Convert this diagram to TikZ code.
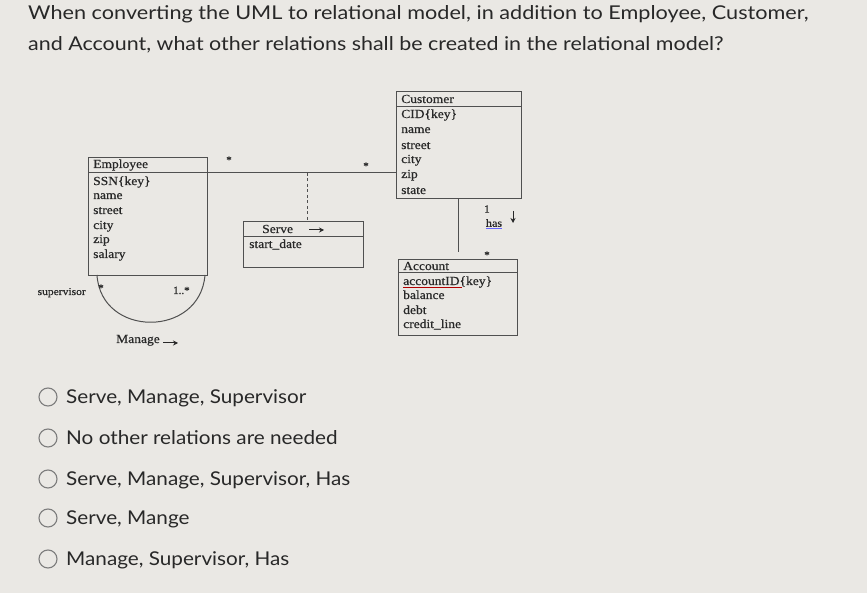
\documentclass[tikz,border=0pt]{standalone}
\usepackage{fontspec}
\setmainfont{Liberation Serif}
\newfontfamily\dfont[FakeBold=0.5]{Liberation Serif}
\newfontfamily\lato{Lato}
\usetikzlibrary{arrows.meta,calc}
\definecolor{bg}{RGB}{234,232,228}
\definecolor{ink}{RGB}{40,40,40}
\definecolor{dline}{RGB}{80,80,80}
\definecolor{dtext}{RGB}{40,40,40}
\definecolor{radio}{RGB}{125,125,125}
\tikzset{
  umlbox/.style={draw=dline, line width=1pt, rectangle, anchor=north west, inner sep=0pt},
  attr/.style={anchor=base west, inner sep=0pt, text=dtext, xscale=1.1, font=\dfont\fontsize{12.3}{12.3}\selectfont},
  conn/.style={draw=dline, line width=1pt},
  qtext/.style={anchor=base west, inner sep=0pt, text=ink, xscale=1.14, font=\lato\fontsize{19}{19}\selectfont},
  atext/.style={anchor=base west, inner sep=0pt, text=ink, xscale=1.09, font=\lato\fontsize{19}{19}\selectfont},
  radiobtn/.style={circle, draw=radio, line width=1.1pt, minimum size=18pt, inner sep=0pt},
  mult/.style={inner sep=0pt, text=dtext, font=\dfont\fontsize{11}{11}\selectfont},
  smallarrow/.style={-{Stealth[length=5pt,width=5pt]}, line width=1pt, draw=dtext}
}
\begin{document}
\begin{tikzpicture}[x=1pt,y=-1pt]
\useasboundingbox (0,0) rectangle (867,593);
\fill[bg] (0,0) rectangle (867,593);

% question
\node[qtext] (q1) at (28,20) {When converting the UML to relational model, in addition to Employee, Customer,};
\node[qtext, xscale=0.99] (q2) at (28,51) {and Account, what other relations shall be created in the relational model?};

% Employee
\node[umlbox, minimum width=119pt, minimum height=118pt] (emp) at (88,157) {};
\draw[conn] ($(emp.north west)+(0,16)$) -- ($(emp.north east)+(0,16)$);
\node[attr] (e0) at (93,168) {Employee};
\node[attr] (e1) at (93,185) {SSN\{key\}};
\node[attr] (e2) at (93,199) {name};
\node[attr] (e3) at (93,214) {street};
\node[attr] (e4) at (93,229) {city};
\node[attr] (e5) at (93,243) {zip};
\node[attr] (e6) at (93,258) {salary};

% Customer
\node[umlbox, minimum width=125pt, minimum height=107pt] (cust) at (396,91) {};
\draw[conn] ($(cust.north west)+(0,16)$) -- ($(cust.north east)+(0,16)$);
\node[attr] (c0) at (401,103) {Customer};
\node[attr] (c1) at (401,118) {CID\{key\}};
\node[attr] (c2) at (401,133) {name};
\node[attr] (c3) at (401,149) {street};
\node[attr] (c4) at (401,163) {city};
\node[attr] (c5) at (401,178) {zip};
\node[attr] (c6) at (401,194) {state};

% Serve
\node[umlbox, minimum width=120pt, minimum height=46pt] (serve) at (243,221) {};
\draw[conn] ($(serve.north west)+(0,16)$) -- ($(serve.north east)+(0,16)$);
\node[attr] (s0) at (262,233) {Serve};
\node[attr] (s1) at (249,248) {start\_date};
\coordinate (sa1) at (309,230);
\coordinate (sa2) at (324,230);
\draw[smallarrow] (sa1) -- (sa2);

% Account
\node[umlbox, minimum width=119pt, minimum height=76pt] (acct) at (398,259) {};
\draw[conn] ($(acct.north west)+(0,14)$) -- ($(acct.north east)+(0,14)$);
\node[attr] (a0) at (403,270) {Account};
\node[attr] (a1) at (403,285) {accountID\{key\}};
\draw[red!70!black, line width=0.7pt] ($(a1.base west)+(0,2)$) -- ++(59,0);
\node[attr] (a2) at (403,299) {balance};
\node[attr] (a3) at (403,314) {debt};
\node[attr] (a4) at (403,328) {credit\_line};

% Employee -- Customer association
\coordinate (j0) at (emp.north east |- 0,173);
\coordinate (j2) at (cust.north west |- 0,173);
\coordinate (j1) at (307,173);
\draw[conn] (j0) -- (j2);
\draw[conn, dash pattern=on 3pt off 2.5pt] (j1) -- (j1 |- serve.north);
\node[mult] (m1) at (229,160) {*};
\node[mult] (m2) at (366,166) {*};

% Manage self association
\coordinate (l0) at (97,275);
\coordinate (l1) at (205,275);
\draw[conn] (l0) .. controls (101,338) and (200,338) .. (l1);
\node[anchor=base east, inner sep=0pt, text=dtext, xscale=1.1, font=\dfont\fontsize{10.5}{10.5}\selectfont] (sup) at (86,295) {supervisor};
\node[mult] (m3) at (101,288) {*};
\node[anchor=base west, inner sep=0pt, text=dtext, font=\dfont\fontsize{11}{11}\selectfont] (m4) at (173,294) {1..*};
\node[attr] (man) at (116,343) {Manage};
\coordinate (ma1) at (163,343);
\coordinate (ma2) at (178,343);
\draw[smallarrow] (ma1) -- (ma2);

% has association
\coordinate (h0) at (cust.south west -| 458,0);
\coordinate (h1) at (458,252);
\draw[conn] (h0) -- (h1);
\node[mult] (m5) at (487,209) {1};
\node[inner sep=0pt, text=dtext, xscale=1.1, font=\dfont\fontsize{11}{11}\selectfont] (has) at (494,223) {has};
\draw[blue!60, line width=0.7pt] ($(has.south west)+(0,1)$) -- ($(has.south east)+(0,1)$);
\coordinate (ha1) at (513,211);
\coordinate (ha2) at (513,223);
\draw[smallarrow] (ha1) -- (ha2);
\node[mult] (m6) at (487,255) {*};

% answers
\foreach \i/\yy/\t in {1/397/{Serve, Manage, Supervisor},2/438/{No other relations are needed},3/479/{Serve, Manage, Supervisor, Has},4/518/{Serve, Mange},5/559/{Manage, Supervisor, Has}}{
  \node[radiobtn] (r\i) at (48,\yy) {};
  \node[atext] (t\i) at (66,\yy+6) {\t};
}
\end{tikzpicture}
\end{document}
